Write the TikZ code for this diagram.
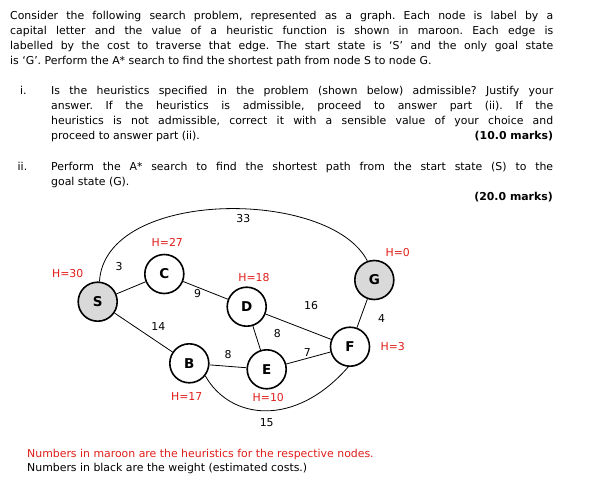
\documentclass[tikz,border=0pt]{standalone}
\usepackage{fontspec}
\setmainfont{DejaVu Sans}
\definecolor{heurred}{RGB}{224,30,26}
\definecolor{goalfill}{RGB}{217,217,217}
\frenchspacing
\begin{document}
\begin{tikzpicture}[x=1pt, y=-1pt,
    txt/.style={inner sep=0pt, font=\fontsize{10.9}{15}\selectfont},
    para/.style={txt, anchor=base west, align=justify},
    state/.style={circle, draw, line width=1.6pt, minimum size=39pt, inner sep=0pt,
                  font=\fontsize{13.5}{13.5}\selectfont\bfseries},
    endstate/.style={state, fill=goalfill},
    heur/.style={txt, text=heurred},
    cost/.style={txt},
    edge/.style={line width=0.8pt}]
    \useasboundingbox (0,0) rectangle (602,488);

    % Problem statement
    \node[para, text width=543pt] (intro) at (10,19) {Consider the following search problem, represented as a graph. Each node is label by a\linebreak capital letter and the value of a heuristic function is shown in maroon. Each edge is\linebreak labelled by the cost to traverse that edge. The start state is ‘S’ and the only goal state\linebreak is ‘G’. Perform the A* search to find the shortest path from node S to node G.};

    % Questions
    \node[txt, anchor=base west] (qi) at (20,94.7) {i.};
    \node[para, text width=502pt] (qitext) at (51,94.7) {Is the heuristics specified in the problem (shown below) admissible? Justify your\linebreak answer. If the heuristics is admissible, proceed to answer part (ii). If the\linebreak heuristics is not admissible, correct it with a sensible value of your choice and\linebreak proceed to answer part (ii).\hfill\textbf{(10.0 marks)}};
    \node[txt, anchor=base west] (qii) at (17.5,170) {ii.};
    \node[para, text width=502pt] (qiitext) at (51,170) {Perform the A* search to find the shortest path from the start state (S) to the\linebreak goal state (G).};
    \node[txt, anchor=base east, font=\fontsize{10.9}{15}\selectfont\bfseries] (marksii) at (553,200.7) {(20.0 marks)};

    % States
    \node[endstate] (S) at (97.7,301.7) {S};
    \node[state] (C) at (164.3,274) {C};
    \node[state] (D) at (246.7,306.7) {D};
    \node[state] (B) at (189.3,363.3) {B};
    \node[state] (E) at (266.7,369.3) {E};
    \node[state] (F) at (350,346.7) {F};
    \node[endstate] (G) at (374.3,280) {G};

    % Edges
    \draw[edge] (S) -- (C);
    \draw[edge] (S) -- (B);
    \draw[edge] (C) -- (D);
    \draw[edge] (D) -- (F);
    \draw[edge] (D) -- (E);
    \draw[edge] (B) -- (E);
    \draw[edge] (E) -- (F);
    \draw[edge] (F) -- (G);
    \draw[edge] (S.85) .. controls (105,188) and (330,188) .. (G.110);
    \draw[edge] (B.-38) .. controls (230,420) and (295,428) .. (F.-95);

    % Edge costs
    \node[cost] (w33) at (243.3,218.3) {33};
    \node[cost] (w3) at (119,266.7) {3};
    \node[cost] (w9) at (197.7,293.3) {9};
    \node[cost] (w14) at (158.3,326.7) {14};
    \node[cost] (w16) at (311,306) {16};
    \node[cost] (w8de) at (277.3,334) {8};
    \node[cost] (w8be) at (228,355) {8};
    \node[cost] (w7) at (307.3,352.7) {7};
    \node[cost] (w4) at (381.7,318.3) {4};
    \node[cost] (w15) at (266.7,422.7) {15};

    % Heuristics
    \node[heur] (hS) at (67.7,274) {H=30};
    \node[heur] (hC) at (167.3,242.7) {H=27};
    \node[heur] (hD) at (254,277.3) {H=18};
    \node[heur] (hB) at (186.7,396.7) {H=17};
    \node[heur] (hE) at (268.3,398) {H=10};
    \node[heur] (hG) at (397.7,252.7) {H=0};
    \node[heur] (hF) at (392.7,346.7) {H=3};

    % Legend
    \node[txt, anchor=base west, text=heurred] (noteh) at (27,457) {Numbers in maroon are the heuristics for the respective nodes.};
    \node[txt, anchor=base west] (notew) at (27,471.5) {Numbers in black are the weight (estimated costs.)};
\end{tikzpicture}
\end{document}
